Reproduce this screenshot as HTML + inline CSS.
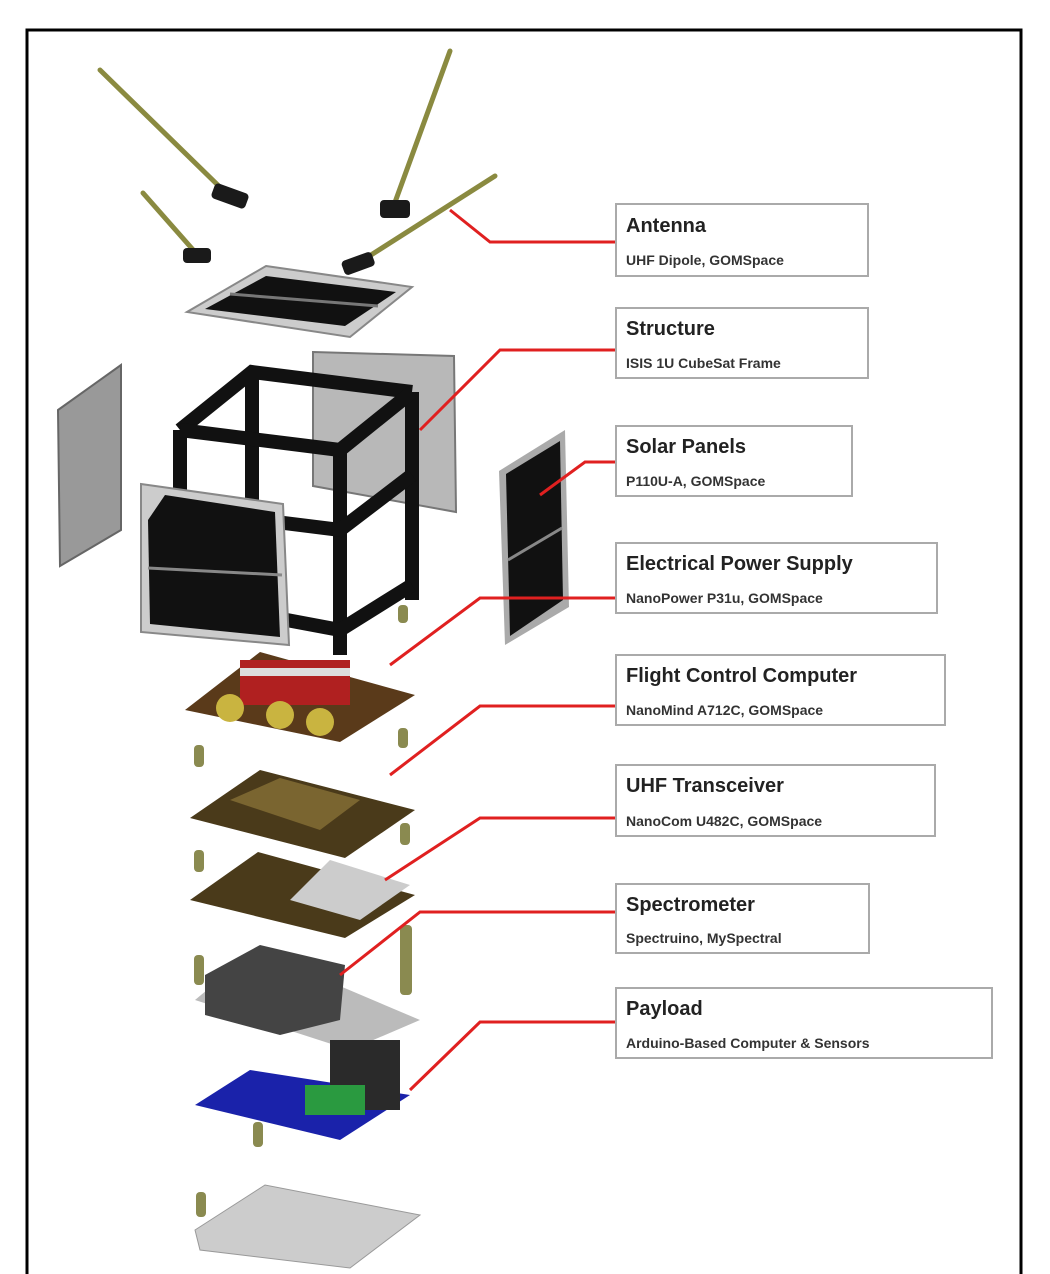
<!DOCTYPE html>
<html><head><meta charset="utf-8"><style>
html,body{margin:0;padding:0;background:#fff}
svg{display:block}
.t{font-family:"Liberation Sans",sans-serif;font-weight:bold;font-size:20px;fill:#222}
.s{font-family:"Liberation Sans",sans-serif;font-weight:bold;font-size:14px;fill:#333}
.b{fill:#fff;stroke:#aaa;stroke-width:2}
.r{fill:none;stroke:#e02020;stroke-width:3}
</style></head><body>
<svg width="1050" height="1274" viewBox="0 0 1050 1274" xmlns="http://www.w3.org/2000/svg">
<rect x="27" y="30" width="994" height="1260" fill="#fff" stroke="#000" stroke-width="3"/>
<!-- antennas -->
<g stroke="#8a8a40" stroke-width="5" stroke-linecap="round">
<line x1="100" y1="70" x2="228" y2="195"/>
<line x1="450" y1="51" x2="394" y2="205"/>
<line x1="143" y1="193" x2="195" y2="252"/>
<line x1="495" y1="176" x2="360" y2="262"/>
</g>
<g fill="#1a1a1a">
<rect x="212" y="188" width="36" height="16" rx="4" transform="rotate(20 230 196)"/>
<rect x="380" y="200" width="30" height="18" rx="4"/>
<rect x="183" y="248" width="28" height="15" rx="4"/>
<rect x="342" y="256" width="32" height="15" rx="4" transform="rotate(-20 358 263)"/>
</g>
<!-- top panel -->
<polygon points="266,266 412,287 350,337 187,312" fill="#ccc" stroke="#888" stroke-width="2"/>
<polygon points="266,276 396,292 345,326 205,309" fill="#111"/>
<line x1="230" y1="294" x2="378" y2="306" stroke="#777" stroke-width="3"/>
<!-- side panels -->
<polygon points="58,410 121,365 121,530 60,566" fill="#999" stroke="#666" stroke-width="2"/>
<polygon points="313,352 454,356 456,512 313,486" fill="#b8b8b8" stroke="#777" stroke-width="2"/>
<!-- frame -->
<g fill="none" stroke="#111" stroke-width="14">
<polyline points="180,430 252,372 412,392"/>
<line x1="180" y1="430" x2="180" y2="620"/>
<line x1="252" y1="372" x2="252" y2="580"/>
<line x1="340" y1="450" x2="340" y2="655"/>
<line x1="412" y1="392" x2="412" y2="600"/>
<polyline points="180,430 340,450 412,392"/>
<polyline points="180,510 340,530 412,475"/>
<polyline points="180,600 340,630 412,585"/>
</g>
<!-- front panel -->
<polygon points="141,484 283,504 289,645 141,632" fill="#ccc" stroke="#888" stroke-width="2"/>
<polygon points="165,495 275,512 280,637 150,624 148,520" fill="#111"/>
<line x1="148" y1="568" x2="282" y2="575" stroke="#888" stroke-width="3"/>
<!-- right solar panel -->
<polygon points="499,471 565,430 569,607 505,645" fill="#aaa"/>
<polygon points="506,474 560,441 563,600 510,636" fill="#111"/>
<line x1="508" y1="560" x2="562" y2="528" stroke="#888" stroke-width="3"/>
<!-- spacers -->
<g fill="#8a8a50">
<rect x="398" y="605" width="10" height="18" rx="4"/><rect x="398" y="728" width="10" height="20" rx="4"/>
<rect x="194" y="745" width="10" height="22" rx="4"/><rect x="400" y="823" width="10" height="22" rx="4"/>
<rect x="194" y="850" width="10" height="22" rx="4"/><rect x="400" y="925" width="12" height="70" rx="4"/>
<rect x="194" y="955" width="10" height="30" rx="4"/><rect x="253" y="1122" width="10" height="25" rx="4"/>
<rect x="196" y="1192" width="10" height="25" rx="4"/><rect x="343" y="1220" width="12" height="25" rx="4"/>
</g>
<!-- EPS -->
<polygon points="185,710 260,652 415,695 340,742" fill="#5a3a1a"/>
<rect x="240" y="660" width="110" height="45" fill="#b02020"/>
<rect x="240" y="668" width="110" height="8" fill="#ddd"/>
<circle cx="230" cy="708" r="14" fill="#c9b440"/><circle cx="280" cy="715" r="14" fill="#c9b440"/><circle cx="320" cy="722" r="14" fill="#c9b440"/>
<!-- FCC -->
<polygon points="190,818 260,770 415,810 345,858" fill="#4a3a1a"/>
<polygon points="230,800 280,778 360,800 320,830" fill="#7a6530"/>
<!-- UHF -->
<polygon points="190,900 258,852 415,895 345,938" fill="#4a3a1a"/>
<polygon points="290,900 330,860 410,885 360,920" fill="#ccc"/>
<!-- Spectrometer -->
<polygon points="195,1000 255,950 420,1020 350,1050" fill="#bbb"/>
<polygon points="205,975 260,945 345,965 340,1020 280,1035 205,1015" fill="#444"/>
<!-- Payload -->
<polygon points="195,1105 250,1070 410,1095 340,1140" fill="#1a22aa"/>
<rect x="330" y="1040" width="70" height="70" fill="#2a2a2a"/>
<rect x="305" y="1085" width="60" height="30" fill="#2a9a40"/>
<!-- bottom plate -->
<polygon points="195,1230 265,1185 420,1215 350,1268 200,1250" fill="#ccc" stroke="#999"/>
<!-- leaders -->
<polyline class="r" points="616,242 490,242 450,210"/>
<polyline class="r" points="616,350 500,350 420,430"/>
<polyline class="r" points="616,462 585,462 540,495"/>
<polyline class="r" points="616,598 480,598 390,665"/>
<polyline class="r" points="616,706 480,706 390,775"/>
<polyline class="r" points="616,818 480,818 385,880"/>
<polyline class="r" points="616,912 420,912 340,975"/>
<polyline class="r" points="616,1022 480,1022 410,1090"/>
<!-- boxes -->
<rect class="b" x="616" y="204" width="252" height="72"/>
<text class="t" x="626" y="232">Antenna</text><text class="s" x="626" y="265">UHF Dipole, GOMSpace</text>
<rect class="b" x="616" y="308" width="252" height="70"/>
<text class="t" x="626" y="335">Structure</text><text class="s" x="626" y="368">ISIS 1U CubeSat Frame</text>
<rect class="b" x="616" y="426" width="236" height="70"/>
<text class="t" x="626" y="453">Solar Panels</text><text class="s" x="626" y="486">P110U-A, GOMSpace</text>
<rect class="b" x="616" y="543" width="321" height="70"/>
<text class="t" x="626" y="570">Electrical Power Supply</text><text class="s" x="626" y="603">NanoPower P31u, GOMSpace</text>
<rect class="b" x="616" y="655" width="329" height="70"/>
<text class="t" x="626" y="682">Flight Control Computer</text><text class="s" x="626" y="715">NanoMind A712C, GOMSpace</text>
<rect class="b" x="616" y="765" width="319" height="71"/>
<text class="t" x="626" y="792">UHF Transceiver</text><text class="s" x="626" y="826">NanoCom U482C, GOMSpace</text>
<rect class="b" x="616" y="884" width="253" height="69"/>
<text class="t" x="626" y="911">Spectrometer</text><text class="s" x="626" y="943">Spectruino, MySpectral</text>
<rect class="b" x="616" y="988" width="376" height="70"/>
<text class="t" x="626" y="1015">Payload</text><text class="s" x="626" y="1048">Arduino-Based Computer &amp; Sensors</text>
</svg>
</body></html>
